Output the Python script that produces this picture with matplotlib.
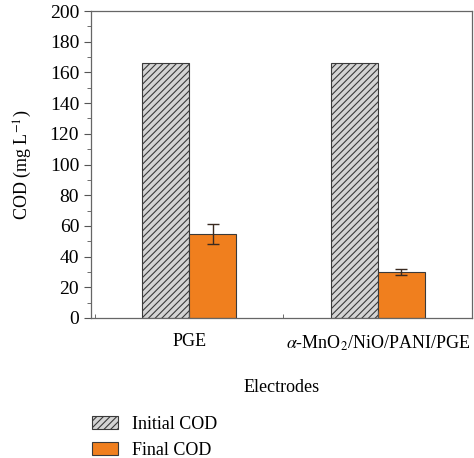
import matplotlib
matplotlib.use("Agg")
import matplotlib.pyplot as plt
from matplotlib.ticker import MultipleLocator
import numpy as np

# data
electrodes = ["PGE", r"$\alpha$-MnO$_2$/NiO/PANI/PGE"]
initial_cod = [166, 166]
final_cod = [54.5, 30.0]
final_err = [6.5, 2.0]

plt.rcParams["font.family"] = ["Liberation Serif", "DejaVu Serif"]
plt.rcParams["mathtext.fontset"] = "stix"
plt.rcParams["hatch.color"] = "#3a3a3a"
plt.rcParams["hatch.linewidth"] = 0.8

fig = plt.figure(figsize=(4.74, 4.58), dpi=100)
ax = fig.add_axes([91 / 474, 1 - 318 / 458, 381 / 474, 307 / 458])

x = np.arange(1, len(electrodes) + 1)
w = 0.25
ax.bar(x - w / 2, initial_cod, w, color="#d4d4d4", edgecolor="#3a3a3a",
       hatch="/////", linewidth=0.8, label="Initial COD")
ax.bar(x + w / 2, final_cod, w, color="#f07f1e", edgecolor="#3a3a3a",
       linewidth=0.8, label="Final COD")
ax.errorbar(x + w / 2, final_cod, yerr=final_err, fmt="none",
            ecolor="#3a2a20", elinewidth=1.0, capsize=4, capthick=1.0)

ax.set_xlim(0.48, 2.5)
ax.set_ylim(0, 200)
ax.set_xticks(x)
ax.set_xticklabels(electrodes, fontsize=13)
ax.xaxis.set_minor_locator(MultipleLocator(0.5))
ax.yaxis.set_major_locator(MultipleLocator(20))
ax.yaxis.set_minor_locator(MultipleLocator(10))
ax.tick_params(axis="y", labelsize=14, direction="out", length=5, color="#555555")
ax.tick_params(axis="y", which="minor", length=3, color="#555555")
ax.tick_params(axis="x", direction="in", length=5, color="#555555", pad=11)
ax.tick_params(axis="x", which="minor", direction="in", length=3, color="#555555")
for s in ax.spines.values():
    s.set_color("#666666")
    s.set_linewidth(0.9)

ax.set_ylabel(r"COD (mg L$^{-1}$)", fontsize=13, labelpad=11)
ax.set_xlabel("Electrodes", fontsize=13, labelpad=19)

ax.legend(loc="upper left", bbox_to_anchor=(92 / 474, 1 - 416 / 458),
          bbox_transform=fig.transFigure, frameon=False, fontsize=13,
          handlelength=1.45, handleheight=0.7, labelspacing=0.5,
          handletextpad=0.78, borderaxespad=0, borderpad=0)

fig.savefig("out.png", dpi=100)
